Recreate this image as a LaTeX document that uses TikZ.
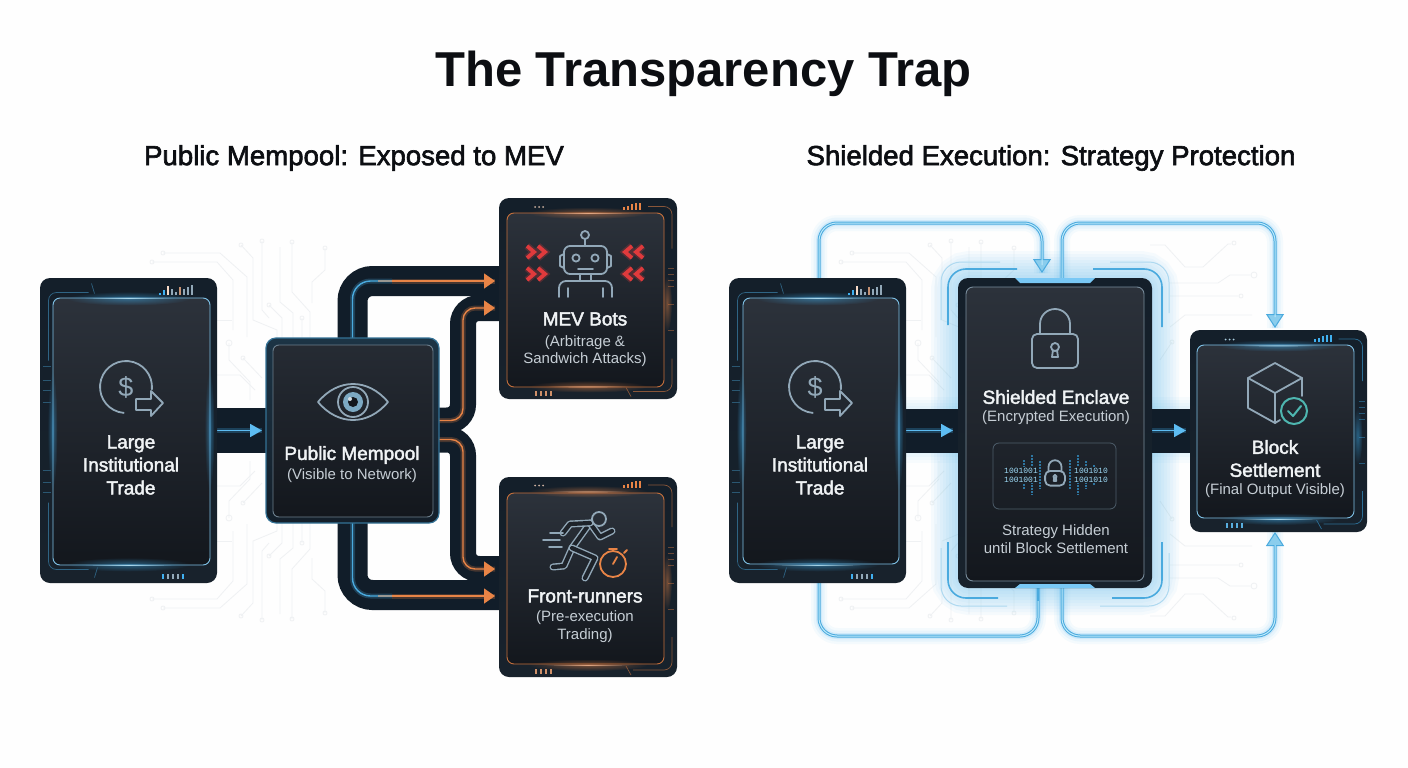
\documentclass[tikz,border=0pt]{standalone}
\usepackage{fontspec}
\setmainfont{Liberation Sans}
\setmonofont{Liberation Mono}
\newfontfamily\medfont[FakeBold=2.2]{Liberation Sans}
\usepackage{tikz}
\usetikzlibrary{arrows.meta,calc,fadings}
\pgfdeclarelayer{back}
\pgfsetlayers{back,main}
\definecolor{ink}{RGB}{12,14,18}
\definecolor{pagewhite}{RGB}{254,254,254}
\definecolor{cardnavy}{RGB}{20,31,42}
\definecolor{cardnavyb}{RGB}{24,34,44}
\definecolor{paneltop}{RGB}{44,50,59}
\definecolor{panelbot}{RGB}{19,23,29}
\definecolor{bandnavy}{RGB}{17,29,41}
\definecolor{wireblue}{RGB}{74,170,222}
\definecolor{wirelight}{RGB}{190,233,250}
\definecolor{glowblue}{RGB}{64,176,240}
\definecolor{wireorange}{RGB}{232,132,70}
\definecolor{alertred}{RGB}{224,58,60}
\definecolor{iconsteel}{RGB}{146,168,184}
\definecolor{labelwhite}{RGB}{240,243,245}
\definecolor{subgrey}{RGB}{198,206,213}
\definecolor{tracegrey}{RGB}{239,241,243}
\definecolor{checkteal}{RGB}{78,182,176}
\tikzfading[name=softspot,inner color=transparent!15,outer color=transparent!100]
\tikzfading[name=softhaze,inner color=transparent!55,outer color=transparent!100]
\tikzset{
  card/.style={rounded corners=10pt,inner sep=0pt,outer sep=0pt,top color=cardnavy,bottom color=cardnavyb},
  panel/.style={rounded corners=7pt,inner sep=0pt,outer sep=0pt,top color=paneltop,bottom color=panelbot,line width=0.9pt},
  band/.style={draw=bandnavy,rounded corners=20pt,line width=30pt},
  flow/.style={-{Triangle[length=12pt,width=13pt]},draw=glowblue!85!white,line width=1.8pt,preaction={draw=glowblue,opacity=.25,line width=5pt,arrows=-}},
  wireb/.style={draw=wireblue,line width=1.4pt,rounded corners=18pt,preaction={draw=wireblue,opacity=.25,line width=5pt}},
  wireo/.style={-{Triangle[length=11pt,width=15pt]},draw=wireorange,line width=1.4pt,rounded corners=18pt,preaction={draw=wireorange,opacity=.25,line width=5pt,arrows=-}},
  loopwire/.style={-{Triangle[length=14pt,width=18pt,line width=1pt,fill=wirelight!55!wireblue]},draw=wireblue,line width=3pt,rounded corners=18pt,
    preaction={draw=glowblue,opacity=.05,line width=16pt,arrows=-},
    preaction={draw=glowblue,opacity=.07,line width=11pt,arrows=-},
    preaction={draw=glowblue,opacity=.14,line width=6pt,arrows=-},
    postaction={draw=wirelight,line width=1pt,arrows=-,shorten >=13pt}},
  arcline/.style={draw=wireblue,line width=1.6pt,rounded corners=18pt},
  arcfaint/.style={draw=wireblue!45!white,line width=1pt,rounded corners=20pt},
  trace/.style={draw=tracegrey,line width=0.8pt},
  icon/.style={draw=iconsteel,line width=1.8pt,line join=round,line cap=round},
  limb/.style={draw=iconsteel,line width=7pt,line cap=round,line join=round,postaction={draw=paneltop!45!panelbot,line width=4.2pt}},
  head/.style={font=\fontsize{27.6}{32}\selectfont\medfont,text=ink},
  cardtitle/.style={font=\fontsize{19}{23}\selectfont\medfont,text=labelwhite,align=center,inner sep=0pt},
  cardsub/.style={font=\fontsize{15}{18}\selectfont,text=subgrey,align=center,inner sep=0pt}
}
\newcommand{\circuitwest}{
  \draw[trace] (163,253) circle[radius=2] -- (220,253) -- (247,277) -- (247,337);
  \draw[trace] (152,262) circle[radius=2] -- (217,262) -- (233,280) -- (233,330);
  \draw[trace] (241,245) circle[radius=2] -- (253,258) -- (253,320) -- (277,330) -- (277,338);
  \draw[trace] (262,241) circle[radius=2] -- (262,310) -- (269,318);
  \draw[trace] (280,247) -- (280,302) -- (293,313) -- (293,338);
  \draw[trace] (292,242) circle[radius=2] -- (292,292) -- (310,312) -- (310,338);
  \draw[trace] (325,248) circle[radius=2] -- (325,270) -- (312,282) -- (312,303);
  \draw[trace] (269,305) circle[radius=2] -- (282,318) -- (282,338);
  \draw[trace] (302,318) circle[radius=2] -- (302,338);
  \draw[trace] (229,343) circle[radius=3] -- (229,360) -- (250,382) -- (250,400);
  \draw[trace] (243,358) circle[radius=2] -- (262,378);
  \draw[trace] (217,320) -- (232,320);
  \draw[trace] (217,375) -- (240,375) -- (255,390);
}
\newcommand{\circuiteast}{
  \draw[trace] (1150,245) -- (1165,245) -- (1185,267) -- (1203,267) -- (1228,244) -- (1231,244) (1234,243) circle[radius=2];
  \draw[trace] (1170,283) -- (1218,283) -- (1230,275) -- (1250,275) (1254,275) circle[radius=3];
  \draw[trace] (1170,296) -- (1238,296) (1241,296) circle[radius=2];
  \draw[trace] (1170,327) -- (1185,315) -- (1252,315);
  \draw[trace] (1160,360) -- (1172,342) circle[radius=2];
}
\newcommand{\dollaricon}[1]{
  \begin{scope}[shift={(#1)}]
    \draw[icon] (5:26) arc[start angle=5,end angle=-265,radius=26];
    \node[font=\fontsize{27}{27}\selectfont,text=iconsteel,inner sep=0pt] (dollar#1) at (0,0) {\$};
    \draw[icon] (10,12) -- (25,12) -- (25,4) -- (37,16) -- (25,29) -- (25,23) -- (10,23) -- cycle;
  \end{scope}
}
\newcommand{\lockicon}[2]{
  \begin{scope}[shift={(#1)},scale=#2]
    \draw[icon,rounded corners=5pt] (-23,-14) rectangle (23,20);
    \draw[icon] (-15,-14) -- (-15,-24) arc[start angle=180,end angle=360,radius=15] -- (15,-14);
    \draw[icon] (-2,2) -- (-3,9) -- (3,9) -- (2,2) (0,-1) circle[radius=4];
  \end{scope}
}
\newcommand{\talltrim}[2]{
  \begin{scope}[shift={(#1.center)}]
    \fill[glowblue,path fading=softhaze] (0,-132) ellipse[x radius=62,y radius=7];
    \fill[wirelight,path fading=softspot] (0,-132.5) ellipse[x radius=48,y radius=1.1];
    \fill[glowblue,path fading=softhaze] (0,134) ellipse[x radius=62,y radius=7];
    \fill[wirelight,path fading=softspot] (0,134.5) ellipse[x radius=48,y radius=1.1];
    \fill[glowblue,path fading=softhaze] (81,0) ellipse[x radius=5,y radius=60];
    \fill[glowblue,path fading=softhaze] (-76,0) ellipse[x radius=5,y radius=60];
    \foreach \bx/\bh/\bc in {30/2/glowblue,34/5/glowblue,38/9/#2,42/6/iconsteel,46/3/iconsteel,50/8/wireorange!60!iconsteel,54/6/iconsteel,58/8/iconsteel,62/10/iconsteel}
      \fill[\bc] (\bx,-136) rectangle ++(2.2,-\bh);
    \foreach \bx/\bc in {33/glowblue,38/iconsteel,43/iconsteel,48/iconsteel,53/glowblue}
      \fill[\bc] (\bx,143) rectangle ++(2.4,5);
    \draw[wireblue!50!cardnavy,line width=0.7pt,rounded corners=8pt] (-40,-138) -- (-80,-138) -- (-80,-70);
    \draw[wireblue!50!cardnavy,line width=0.7pt,rounded corners=8pt] (-40,139) -- (-80,139) -- (-80,72);
    \draw[wireblue!50!cardnavy,line width=0.7pt] (-37,-147) -- (-34,-137) (-34,147) -- (-31,137);
    \foreach \sy in {-64,-50,-40,-28,40,52,62}
      \draw[wireblue!40!cardnavy,line width=0.7pt] (-86,\sy) -- (-78,\sy);
  \end{scope}
}
\newcommand{\smalltrim}[3]{
  \begin{scope}[shift={(#1.center)}]
    \fill[#2,path fading=softhaze] (0,-85.5) ellipse[x radius=60,y radius=6];
    \fill[#3,path fading=softspot] (0,-85.5) ellipse[x radius=46,y radius=1.1];
    \fill[#2,path fading=softhaze] (0,88) ellipse[x radius=60,y radius=6];
    \fill[#3,path fading=softspot] (0,88) ellipse[x radius=46,y radius=1.1];
    \foreach \dx in {-53,-49,-45}
      \fill[#3!60!iconsteel] (\dx,-91.5) circle[radius=1];
    \foreach \bx/\bh in {35/3,39/4,43/6,47/7,51/7}
      \fill[#2] (\bx,-89) rectangle ++(2,-\bh);
    \foreach \bx in {-53,-48,-43,-38}
      \fill[#2!70!iconsteel] (\bx,92) rectangle ++(2.2,5);
    \draw[#2!55!cardnavy,line width=0.7pt,rounded corners=8pt] (60,-92) -- (84,-92) -- (84,-50);
    \draw[#2!55!cardnavy,line width=0.7pt,rounded corners=8pt] (45,93) -- (84,93) -- (84,60);
    \draw[#2!55!cardnavy,line width=0.7pt] (38,89) -- (43,98);
    \foreach \sy in {-30,-24,-18,-12,6,32}
      \draw[#2!40!cardnavy,line width=0.7pt] (80,\sy) -- (86,\sy);
    \fill[#2,path fading=softhaze] (79,5) ellipse[x radius=5,y radius=28];
  \end{scope}
}
\begin{document}
\begin{tikzpicture}[x=1pt,y=-1pt]
\useasboundingbox (0,0) rectangle (1408,768);
\node[font=\fontsize{49}{56}\selectfont\bfseries,text=ink] (title) at (703.5,74) {The Transparency Trap};
\node[head] (headleft) at (354,158) {Public Mempool: Exposed to MEV};
\node[head] (headright) at (1051,158) {Shielded Execution: Strategy Protection};

\node[card,minimum width=177pt,minimum height=305pt] (trade) at (128.5,430.5) {};
\node[card,minimum width=173pt,minimum height=185pt,top color=cardnavy!85!wireblue,bottom color=cardnavy,draw=wireblue!60!cardnavy,line width=1.2pt] (mempool) at (352.5,430.5) {};
\node[card,minimum width=178pt,minimum height=201pt] (bots) at (588,298.5) {};
\node[card,minimum width=178pt,minimum height=200pt] (runners) at (588,577) {};
\node[card,minimum width=177pt,minimum height=305pt] (tradeshield) at (817.5,430.5) {};
\node[card,minimum width=194pt,minimum height=310pt] (enclave) at (1055,433) {};
\node[card,minimum width=177pt,minimum height=202pt] (settle) at (1278.5,431) {};

\begin{pgfonlayer}{back}
\fill[pagewhite] (0,0) rectangle (1408,768);
\circuitwest
\begin{scope}[shift={(0,861)},yscale=-1]\circuitwest\end{scope}
\begin{scope}[shift={(689,0)}]\circuitwest\end{scope}
\begin{scope}[shift={(689,861)},yscale=-1]\circuitwest\end{scope}
\circuiteast
\begin{scope}[shift={(0,861)},yscale=-1]\circuiteast\end{scope}
\foreach \w in {6,12,18,24,30,36,42,48,54}
  \draw[glowblue,opacity=.045,line width=\w pt,rounded corners=12pt] (958,278) rectangle (1152,588);
\foreach \w in {48,54,60,66}{
  \draw[glowblue,opacity=.035,line width=\w pt] (906,430) -- (958,430);
  \draw[glowblue,opacity=.035,line width=\w pt] (1152,430) -- (1190,430);
}

\draw[draw=bandnavy,line width=45pt] (trade.east) -- (mempool.west);
\draw[draw=bandnavy,line width=44pt] (tradeshield.east) -- ([yshift=2.5pt]enclave.west);
\draw[draw=bandnavy,line width=44pt] ([yshift=2.5pt]enclave.east) -- ([yshift=0.5pt]settle.west);
\draw[band] (mempool.north) |- ([yshift=17.5pt]bots.west);
\draw[band] (mempool.south) |- ([yshift=-18pt]runners.west);
\draw[band,line width=26pt,rounded corners=16pt] ([yshift=10pt]mempool.east) -- ++(24,0) |- ([yshift=-9.5pt]bots.west);
\draw[band,line width=26pt,rounded corners=16pt] ([yshift=-9pt]mempool.east) -- ++(24,0) |- ([yshift=8pt]runners.west);

\coordinate (blendtop) at (392,281);
\coordinate (blendlow) at (392,596);
\draw[wireb] (mempool.north) |- (blendtop);
\draw[wireb] (mempool.south) |- (blendlow);
\draw[wireorange!50!wireblue,line width=1.4pt] (blendtop) -- ++(-14,0) (blendlow) -- ++(-14,0);
\draw[wireo,shorten >=4pt] (blendtop) -- ([yshift=17.5pt]bots.west);
\draw[wireo,shorten >=4pt] (blendlow) -- ([yshift=-19pt]runners.west);
\draw[wireo,rounded corners=12pt,shorten >=4pt] ([yshift=10pt]mempool.east) -- ++(24,0) |- ([yshift=-9.5pt]bots.west);
\draw[wireo,rounded corners=12pt,shorten >=4pt] ([yshift=-9pt]mempool.east) -- ++(24,0) |- ([yshift=8pt]runners.west);
\draw[flow,shorten >=4pt] (trade.east) -- (mempool.west);
\draw[flow,shorten >=5pt] (tradeshield.east) -- ([yshift=2.5pt]enclave.west);
\draw[flow,shorten >=4pt] ([yshift=2.5pt]enclave.east) -- ([yshift=0.5pt]settle.west);

\draw[loopwire,shorten >=5pt] ([xshift=1.5pt]tradeshield.north) -- ++(0,-55) -| ([xshift=-13pt]enclave.north);
\draw[loopwire,arrows=-] ([xshift=1.5pt]tradeshield.south) -- ++(0,53) -| ([xshift=-17pt]enclave.south);
\draw[loopwire,shorten >=2pt] ([xshift=7pt]enclave.north) -- ++(0,-55) -| ([xshift=-3.5pt]settle.north);
\draw[loopwire] ([xshift=7pt]enclave.south) -- ++(0,48) -| ([xshift=-3.5pt]settle.south);

\draw[arcline] (1017,269) -- (948,269) -- (948,325);
\draw[arcfaint] (1000,262) -- (941,262) -- (941,320);
\draw[arcline] (998,598) -- (948,598) -- (948,542);
\draw[arcfaint] (1007,606) -- (941,606) -- (941,548);
\draw[arcline] (1093,269) -- (1162,269) -- (1162,327);
\draw[arcfaint] (1110,262) -- (1169,262) -- (1169,313);
\draw[arcline] (1112,598) -- (1162,598) -- (1162,542);
\draw[arcfaint] (1100,606) -- (1169,606) -- (1169,553);
\end{pgfonlayer}

\node[panel,draw=wireblue!70!white,minimum width=157pt,minimum height=267pt] (tradepanel) at (131.5,431.5) {};
\node[panel,draw=iconsteel!70!cardnavy,minimum width=160pt,minimum height=172pt,rounded corners=6pt,top color=paneltop!75!panelbot] (mempanel) at (353,431) {};
\node[panel,draw=wireorange!85!black,minimum width=157pt,minimum height=174pt] (botspanel) at (585.5,300) {};
\node[panel,draw=wireorange!85!black,minimum width=157pt,minimum height=171pt] (runnerspanel) at (585.5,578.5) {};
\node[panel,draw=wireblue!70!white,minimum width=156pt,minimum height=266pt] (shieldpanel) at (821,431) {};
\node[panel,draw=iconsteel!80!cardnavy,minimum width=178pt,minimum height=294pt] (enclavepanel) at (1055,434) {};
\node[panel,draw=wireblue!70!white,minimum width=157pt,minimum height=173pt] (settlepanel) at (1275.5,431.5) {};

\talltrim{trade}{wireorange!30!white}
\talltrim{tradeshield}{wireorange!30!white}
\smalltrim{bots}{wireorange}{wireorange!60!white}
\smalltrim{runners}{wireorange}{wireorange!60!white}
\smalltrim{settle}{glowblue}{wirelight}

\fill[glowblue!70!white] (1015,278) -- (1095,278) -- (1090,283) -- (1020,283) -- cycle;
\fill[glowblue!70!white] (1015,588) -- (1095,588) -- (1090,584) -- (1020,584) -- cycle;

\dollaricon{126,387}
\node[cardtitle] (tradelabel) at (131,465) {Large\\Institutional\\Trade};
\dollaricon{815,387}
\node[cardtitle] (shieldlabel) at (820,465) {Large\\Institutional\\Trade};

\draw[icon] (318,402) .. controls (338,378) and (368,378) .. (388,402) .. controls (368,426) and (338,426) .. (318,402) -- cycle;
\draw[icon] (353,402) circle[radius=15];
\fill[iconsteel!70!wireblue] (353,402) circle[radius=10];
\fill[panelbot] (353,402) circle[radius=5];
\fill[iconsteel!40!white] (350,399) circle[radius=2];
\node[cardtitle] (memlabel) at (352,455) {Public Mempool};
\node[cardsub] (memsub) at (352,476) {(Visible to Network)};

\foreach \yy in {252,274}{
  \draw[alertred,opacity=.25,line width=7pt] (527,\yy-6) -- (534,\yy) -- (527,\yy+6) (538,\yy-6) -- (545,\yy) -- (538,\yy+6);
  \draw[alertred,opacity=.25,line width=7pt] (643,\yy-6) -- (636,\yy) -- (643,\yy+6) (632,\yy-6) -- (625,\yy) -- (632,\yy+6);
  \draw[alertred,line width=3.8pt,line join=miter] (527,\yy-6) -- (534,\yy) -- (527,\yy+6) (538,\yy-6) -- (545,\yy) -- (538,\yy+6);
  \draw[alertred,line width=3.8pt,line join=miter] (643,\yy-6) -- (636,\yy) -- (643,\yy+6) (632,\yy-6) -- (625,\yy) -- (632,\yy+6);
}
\draw[icon] (585,246) -- (585,239) (585,235) circle[radius=4];
\draw[icon,rounded corners=6pt] (564,246) rectangle (607,274);
\draw[icon] (564,254) -- (560,256) -- (560,266) -- (564,268) (607,254) -- (611,256) -- (611,266) -- (607,268);
\draw[icon] (576,258) circle[radius=3.6] (595,258) circle[radius=3.6] (578,269) -- (593,269);
\draw[icon] (580,274) -- (580,280) (591,274) -- (591,280);
\draw[icon,rounded corners=7pt] (559,297) -- (559,281) -- (612,281) -- (612,297);
\draw[icon] (568,297) -- (568,288) (603,297) -- (603,288);
\node[cardtitle] (botslabel) at (585,319) {MEV Bots};
\node[cardsub,font=\fontsize{15}{17}\selectfont] (botssub) at (585,351) {(Arbitrage \&\\Sandwich Attacks)};

\draw[limb] (590,523) -- (572,548);
\draw[limb] (572,548) -- (564,566) -- (553,567);
\draw[limb] (572,548) -- (595,558) -- (585,578);
\draw[limb] (590,523) -- (600,537) -- (612,531);
\draw[limb] (590,523) -- (570,524) -- (563,533);
\draw[icon] (599,519) circle[radius=7];
\draw[icon] (550,533) -- (563,533) (543,540) -- (560,540) (549,547) -- (562,547);
\draw[icon,draw=wireorange] (613,564) circle[radius=13] (609,549) -- (617,549) (613,549) -- (613,551) (624,553) -- (627,550) (613,564) -- (617,557);
\node[cardtitle] (runnerslabel) at (585,596) {Front-runners};
\node[cardsub] (runnerssub) at (585,627) {(Pre-execution\\Trading)};

\lockicon{1055,348}{1}
\node[cardtitle] (enclavelabel) at (1056,397) {Shielded Enclave};
\node[cardsub] (enclavesub) at (1056,418) {(Encrypted Execution)};
\node[draw=iconsteel!45!cardnavy,rounded corners=6pt,minimum width=123pt,minimum height=66pt,inner sep=0pt,line width=0.8pt] (cipherbox) at (1054.5,476) {};
\foreach \cx/\ch in {1008/5,1016/8,1024/15,1032/20,1040/14,1070/15,1078/20,1086/14,1094/10,1102/5}
  \draw[glowblue!60!cardnavy,line width=1.2pt,dash pattern=on 1.5pt off 1.5pt] (\cx,475-\ch) -- (\cx,475+\ch);
\node[font=\fontsize{8}{9}\selectfont\ttfamily,text=wirelight!75!glowblue,align=center,fill=paneltop!25!panelbot,inner sep=0.5pt] (cipherleft) at (1021,475) {1001001\\1001001};
\node[font=\fontsize{8}{9}\selectfont\ttfamily,text=wirelight!75!glowblue,align=center,fill=paneltop!25!panelbot,inner sep=0.5pt] (cipherright) at (1091,475) {1001010\\1001010};
\lockicon{1055,477}{0.43}
\node[cardsub] (hiddenlabel) at (1056,539) {Strategy Hidden\\until Block Settlement};

\draw[icon] (1275,363) -- (1302,378) -- (1302,396) (1275,363) -- (1248,378) -- (1248,408) -- (1275,423) -- (1280,420);
\draw[icon] (1248,378) -- (1275,393) -- (1302,378) (1275,393) -- (1275,423);
\draw[draw=checkteal,line width=2pt] (1294,411) circle[radius=13];
\draw[draw=checkteal,line width=2pt,line cap=round,line join=round] (1288,411) -- (1293,416) -- (1301,406);
\node[cardtitle] (settlelabel) at (1275,458.5) {Block\\Settlement};
\node[cardsub] (settlesub) at (1275,491) {(Final Output Visible)};
\end{tikzpicture}
\end{document}
